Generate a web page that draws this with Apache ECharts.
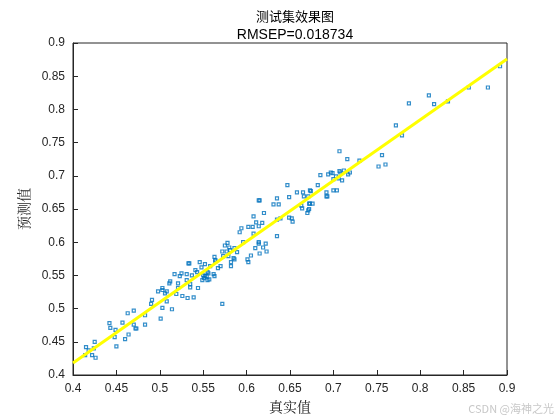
<!DOCTYPE html>
<html>
<head>
<meta charset="utf-8">
<script src="https://cdn.jsdelivr.net/npm/echarts@6/dist/echarts.min.js"></script>
<style>html,body{margin:0;padding:0;background:#fff}#chart{width:560px;height:420px}</style>
</head>
<body>
<div id="chart"></div>
<script>
// 真实值 / 预测值
var actual = [.415,.418,.425,.422,.426,.414,.424,.442,.443,.449,.448,.450,.457,.460,.464,.463,.470,.472,.473,.470,.483,.483,.490,.491,.501,.498,.503,.503,.503,.508,.506,.508,.511,.512,.514,.517,.519,.521,.521,.523,.525,.526,.531,.531,.532,.533,.534,.535,.535,.537,.539,.541,.543,.544,.546,.548,.549,.550,.551,.552,.552,.554,.555,.555,.556,.557,.558,.562,.563,.563,.564,.564,.567,.570,.572,.572,.573,.575,.577,.578,.579,.580,.581,.582,.582,.585,.586,.586,.589,.592,.594,.596,.601,.602,.602,.605,.607,.608,.608,.610,.611,.614,.614,.614,.615,.615,.618,.619,.620,.622,.623,.631,.635,.635,.637,.639,.649,.652,.653,
  .892,.878,.856,.832,.816,.810,.787,.772,.779,.756,.752,.760,.730,.716,.707,.719,.717,.712,.708,.707,.710,.706,.703,.700,.699,.697,.694,.685,.682,.704,.700,.692,.692,.693,.647,.658,.665,.673,.674,.671,.666,.649,.635,.614,
  .664,.663,.672,.670,.671,.672,.676,.673];
var predicted = [.442,.437,.450,.430,.426,.430,.440,.478,.471,.468,.457,.443,.479,.454,.461,.493,.497,.470,.470,.476,.490,.476,.507,.513,.485,.526,.531,.528,.501,.526,.523,.511,.538,.541,.499,.552,.522,.531,.538,.549,.553,.519,.552,.543,.516,.568,.568,.537,.532,.550,.517,.558,.555,.531,.570,.562,.543,.550,.546,.549,.567,.549,.543,.555,.553,.544,.564,.552,.549,.578,.571,.573,.561,.564,.507,.586,.579,.595,.586,.599,.579,.592,.588,.570,.564,.576,.574,.591,.585,.615,.621,.600,.574,.570,.623,.580,.623,.639,.613,.591,.630,.600,.598,.624,.583,.663,.629,.592,.644,.598,.586,.657,.609,.634,.657,.636,.637,.636,.631,
  .865,.833,.833,.812,.808,.821,.809,.776,.761,.731,.714,.717,.723,.725,.737,.705,.702,.708,.705,.707,.693,.696,.699,.695,.704,.705,.702,.701,.686,.678,.678,.675,.669,.669,.686,.675,.675,.678,.677,.669,.669,.668,.666,.663,
  .651,.655,.658,.644,.648,.650,.658,.658];
var fitLine = [[0.4, 0.418], [0.9, 0.876]];

var pts = actual.map(function (v, i) { return [v, predicted[i]]; });
var chart = echarts.init(document.getElementById('chart'));
var axisCommon = {
	type: 'value', interval: 0.05, min: 0.4, max: 0.9,
	axisLine: { show: true, lineStyle: { color: '#262626', width: 1 } },
	axisTick: { show: true, inside: true, length: 5, lineStyle: { color: '#262626' } },
	splitLine: { show: false },
	axisLabel: { color: '#262626', fontSize: 12, fontFamily: 'Liberation Sans', formatter: function (v) { return +v.toFixed(2); } },
	nameLocation: 'middle',
	nameTextStyle: { fontFamily: 'Noto Serif CJK SC, Noto Sans CJK SC', fontSize: 14, color: '#262626' }
};
chart.setOption({
	animation: false,
	title: {
		text: '{a|测试集效果图}\n{b|RMSEP=0.018734}', left: 290, top: 2, textAlign: 'center',
		textStyle: {
			fontWeight: 'normal',
			rich: {
				a: { fontSize: 13, fontWeight: 'normal', color: '#000', lineHeight: 19, fontFamily: 'Noto Sans CJK SC' },
				b: { fontSize: 14, fontWeight: 'normal', color: '#000', lineHeight: 19, fontFamily: 'Liberation Sans' }
			}
		}
	},
	grid: { left: 73, right: 53, top: 43, bottom: 45, show: true, borderColor: '#262626', borderWidth: 1 },
	xAxis: Object.assign({}, axisCommon, { name: '真实值', nameGap: 22 }),
	yAxis: Object.assign({}, axisCommon, { name: '预测值', nameGap: 36 }),
	series: [{
		type: 'scatter', data: pts, symbol: 'rect', symbolSize: 3,
		itemStyle: { color: 'transparent', borderColor: '#0072BD', borderWidth: 1.2 }
	}, {
		type: 'line', data: fitLine, symbol: 'none',
		lineStyle: { color: '#ffff00', width: 3 }
	}],
	graphic: [{ type: 'text', right: 6, bottom: 6, style: { text: 'CSDN @海神之光', fill: '#c8c8c8', font: '11px Noto Sans CJK SC' } }]
});
</script>
</body>
</html>
